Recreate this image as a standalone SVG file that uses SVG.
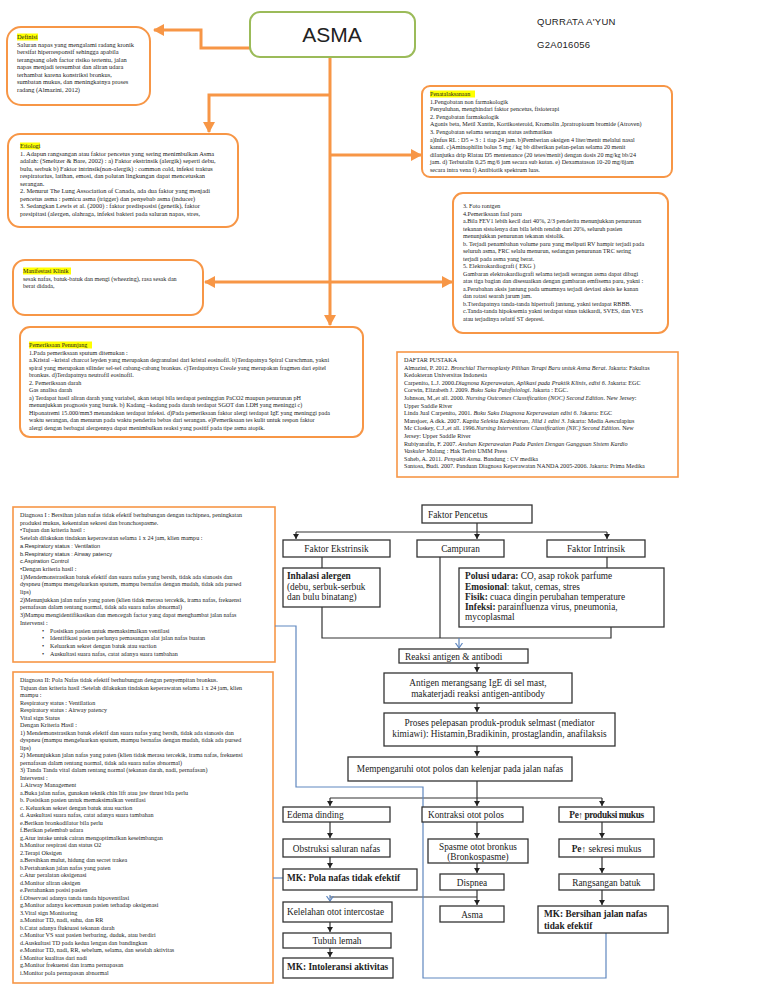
<svg xmlns="http://www.w3.org/2000/svg" width="768" height="1002" viewBox="0 0 768 1002">
<defs>
<style>
.t{font-family:"Liberation Serif",serif;font-size:6.1px;fill:#222}
.t6{font-family:"Liberation Serif",serif;font-size:6.4px;fill:#222}
.s{font-family:"Liberation Sans",sans-serif;font-size:5.6px;fill:#222}
.f{font-family:"Liberation Serif",serif;font-size:9.3px;fill:#222}
.fc{font-family:"Liberation Serif",serif;font-size:9.3px;fill:#222;text-anchor:middle}
.b{font-weight:bold}
.it{font-style:italic}
.ob{fill:#fff;stroke:#F79646;stroke-width:2}
.os{fill:#fff;stroke:#F79646;stroke-width:1.6}
.fb{fill:#fff;stroke:#333;stroke-width:1.3}
.oc{fill:none;stroke:#F79646;stroke-width:3}
.bc{fill:none;stroke:#333;stroke-width:1.2}
.bl{fill:none;stroke:#5f87bf;stroke-width:1.2}
.hl{fill:#FFFF00}
</style>
<marker id="oa" markerUnits="userSpaceOnUse" markerWidth="12" markerHeight="12" refX="10" refY="6" orient="auto"><path d="M0,0 L11,6 L0,12 z" fill="#F79646"/></marker>
<marker id="ka" markerUnits="userSpaceOnUse" markerWidth="6" markerHeight="6" refX="5" refY="3" orient="auto"><path d="M0,0 L5,3 L0,6 z" fill="#222"/></marker>
<marker id="ba" markerUnits="userSpaceOnUse" markerWidth="7" markerHeight="8" refX="5" refY="4" orient="auto"><path d="M0,0.5 L5,4 L0,7.5" fill="none" stroke="#5f87bf" stroke-width="1.2"/></marker>
</defs>
<rect width="768" height="1002" fill="#fff"/>

<g id="connectors-top">
<path class="oc" d="M250,48 H201 V30 H154" marker-end="url(#oa)"/>
<path class="oc" d="M330,57 V325" marker-end="url(#oa)"/>
<path class="oc" d="M330,95 H209 V132" marker-end="url(#oa)"/>
<path class="oc" d="M330,155 H421" marker-end="url(#oa)"/>
<path class="oc" d="M330,282 H205" marker-end="url(#oa)"/>
<path class="oc" d="M330,282 H452" marker-end="url(#oa)"/>
</g>

<g id="asma">
<rect x="250" y="12" width="165" height="45" rx="10" fill="#fff" stroke="#9BBB59" stroke-width="2"/>
<text x="332" y="42" font-family="Liberation Sans, sans-serif" font-size="21" text-anchor="middle" fill="#222">ASMA</text>
</g>

<g id="author">
<text x="537" y="25" font-family="Liberation Sans, sans-serif" font-size="9.5" letter-spacing="0.3" fill="#222">QURRATA A'YUN</text>
<text x="537" y="48" font-family="Liberation Sans, sans-serif" font-size="9.5" letter-spacing="0.3" fill="#222">G2A016056</text>
</g>

<g id="definisi">
<rect class="ob" x="7" y="27" width="143" height="78" rx="14"/>
<rect class="hl" x="17" y="33.5" width="21" height="7"/>
<text class="t6" x="17" y="39">Definisi</text>
<text class="t6" x="17" y="46.5">Saluran napas yang mengalami radang kronik</text>
<text class="t6" x="17" y="54">bersifat hiperresponsif sehingga apabila</text>
<text class="t6" x="17" y="61.5">terangsang oleh factor risiko tertentu, jalan</text>
<text class="t6" x="17" y="69">napas menjadi tersumbat dan aliran udara</text>
<text class="t6" x="17" y="76.5">terhambat karena konstriksi bronkus,</text>
<text class="t6" x="17" y="84">sumbatan mukus, dan meningkatnya proses</text>
<text class="t6" x="17" y="91.5">radang (Almazini, 2012)</text>
</g>

<g id="etiologi">
<rect class="ob" x="8" y="134" width="230" height="93" rx="12"/>
<rect class="hl" x="20" y="142.5" width="20" height="7"/>
<text class="t6" x="20" y="148">Etiologi</text>
<text class="t6" x="20" y="155.5">1. Adapun rangsangan atau faktor pencetus yang sering menimbulkan Asma</text>
<text class="t6" x="20" y="163">adalah: (Smeltzer &amp; Bare, 2002) : a) Faktor ekstrinsik (alergik) seperti debu,</text>
<text class="t6" x="20" y="170.5">bulu, serbuk b) Faktor intrinsik(non-alergik) : common cold, infeksi traktus</text>
<text class="t6" x="20" y="178">respiratorius, latihan, emosi, dan polutan lingkungan dapat mencetuskan</text>
<text class="t6" x="20" y="185.5">serangan.</text>
<text class="t6" x="20" y="193">2. Menurut The Lung Association of Canada, ada dua faktor yang menjadi</text>
<text class="t6" x="20" y="200.5">pencetus asma :   pemicu asma (trigger) dan penyebab asma (inducer)</text>
<text class="t6" x="20" y="208">3. Sedangkan Lewis et al. (2000) : faktor predisposisi (genetik), faktor</text>
<text class="t6" x="20" y="215.5">presipitasi (alergen, olahraga, infeksi bakteri pada saluran napas, stres,</text>
</g>

<g id="manifestasi">
<rect class="ob" x="13" y="260" width="190" height="55" rx="12"/>
<rect class="hl" x="23" y="267.5" width="48" height="7"/>
<text class="t" x="23" y="273">Manifestasi Klinik</text>
<text class="t" x="23" y="280.5">sesak nafas, batuk-batuk dan mengi (wheezing), rasa sesak dan</text>
<text class="t" x="23" y="288">berat didada,</text>
</g>

<g id="pemeriksaan">
<rect class="ob" x="20" y="327" width="343" height="110" rx="10"/>
<rect class="hl" x="29" y="341.5" width="63" height="7"/>
<text class="t" x="29" y="347">Pemeriksaan Penunjang</text>
<text class="t" x="29" y="354.5">1.Pada pemeriksaan sputum ditemukan :</text>
<text class="t" x="29" y="362">a.Kristal –kristal charcot leyden yang merupakan degranulasi dari kristal eosinofil. b)Terdapatnya Spiral Curschman, yakni</text>
<text class="t" x="29" y="369.5">spiral yang merupakan silinder sel-sel cabang-cabang bronkus. c)Terdapatnya Creole yang merupakan fragmen dari epitel</text>
<text class="t" x="29" y="377">bronkus. d)Terdapatnya neutrofil eosinofil.</text>
<text class="t" x="29" y="384.5">2. Pemeriksaan darah</text>
<text class="t" x="29" y="392">Gas analisa darah</text>
<text class="t" x="29" y="399.5">a) Terdapat hasil aliran darah yang variabel, akan tetapi bila terdapat peninggian PaCO2 maupun penurunan pH</text>
<text class="t" x="29" y="407">menunjukkan prognosis yang buruk. b) Kadang –kadang pada darah terdapat SGOT dan LDH yang meninggi c)</text>
<text class="t" x="29" y="414.5">Hiponatremi 15.000/mm3 menandakan terdapat infeksi. d)Pada pemeriksaan faktor alergi terdapat IgE yang meninggi pada</text>
<text class="t" x="29" y="422">waktu serangan, dan menurun pada waktu penderita bebas dari serangan. e)Pemeriksaan tes kulit untuk respon faktor</text>
<text class="t" x="29" y="429.5">alergi dengan berbagai alergennya dapat menimbulkan reaksi yang positif pada tipe asma atopik.</text>
</g>

<g id="penatalaksanaan">
<rect class="ob" x="422" y="86" width="250" height="91" rx="8"/>
<rect class="hl" x="430" y="90.5" width="45" height="7"/>
<text class="t" x="430" y="96">Penatalaksanaan</text>
<text class="t" x="430" y="103.6">1.Pengobatan non farmakologik</text>
<text class="t" x="430" y="111.2">Penyuluhan, menghindari faktor pencetus, fisioterapi</text>
<text class="t" x="430" y="118.8">2. Pengobatan farmakologik</text>
<text class="t" x="430" y="126.4">Agonis beta, Metil Xantin, Kortikosteroid, Kromolin ,Ipratropioum bromide (Atroven)</text>
<text class="t" x="430" y="134">3. Pengobatan selama serangan status asthmatikus</text>
<text class="t" x="430" y="141.6">a)Infus RL : D5  = 3 : 1 tiap 24 jam. b)Pemberian oksigen 4 liter/menit melalui nasal</text>
<text class="t" x="430" y="149.2">kanul. c)Aminophilin bolus 5 mg / kg bb diberikan pelan-pelan selama 20 menit</text>
<text class="t" x="430" y="156.8">dilanjutka drip Rlatau D5 mentenance (20 tetes/menit) dengan dosis 20 mg/kg bb/24</text>
<text class="t" x="430" y="164.4">jam. d) Terbutalin 0,25 mg/6 jam secara sub kutan. e)    Dexamatason 10-20 mg/6jam</text>
<text class="t" x="430" y="172">secara intra vena f) Antibiotik spektrum luas.</text>
</g>

<g id="foto">
<rect class="ob" x="453" y="193" width="215" height="140" rx="10"/>
<text class="t" x="463" y="208">3. Foto rontgen</text>
<text class="t" x="463" y="215.5">4.Pemeriksaan faal paru</text>
<text class="t" x="463" y="223">a.Bila FEV1 lebih kecil dari 40%, 2/3 penderita menunjukkan penurunan</text>
<text class="t" x="463" y="230.5">tekanan sistolenya dan bila lebih rendah dari 20%, seluruh pasien</text>
<text class="t" x="463" y="238">menunjukkan penurunan tekanan sistolik.</text>
<text class="t" x="463" y="245.5">b. Terjadi penambahan volume paru yang meliputi RV hampir terjadi pada</text>
<text class="t" x="463" y="253">seluruh asma, FRC selalu menurun, sedangan penurunan TRC sering</text>
<text class="t" x="463" y="260.5">terjadi pada asma yang berat.</text>
<text class="t" x="463" y="268">5. Elektrokardiografi ( EKG )</text>
<text class="t" x="463" y="275.5">Gambaran elektrokardiografi selama terjadi serangan asma dapat dibagi</text>
<text class="t" x="463" y="283">atas tiga bagian dan disesuaikan dengan gambaran emfisema paru, yakni :</text>
<text class="t" x="463" y="290.5">a.Perubahan aksis jantung pada umumnya terjadi deviasi aksis ke kanan</text>
<text class="t" x="463" y="298">dan rotasi searah jarum jam.</text>
<text class="t" x="463" y="305.5">b.Tterdapatnya tanda-tanda hipertrofi jantung, yakni terdapat RBBB.</text>
<text class="t" x="463" y="313">c.Tanda-tanda hipoksemia yakni terdapat sinus takikardi, SVES, dan VES</text>
<text class="t" x="463" y="320.5">atau terjadinya relatif ST depresi.</text>
</g>

<g id="daftar-pustaka">
<rect class="os" x="397" y="352" width="281" height="125"/>
<text class="t" x="404" y="362">DAFTAR PUSTAKA</text>
<text class="t" x="404" y="369.6">Almazini, P. 2012. <tspan class="it">Bronchial Thermoplasty Pilihan Terapi Baru untuk Asma Berat</tspan>. Jakarta: Fakultas</text>
<text class="t" x="404" y="377.2">Kedokteran Universitas Indonesia</text>
<text class="t" x="404" y="384.8">Carpenito, L.J. 2000.<tspan class="it">Diagnosa Keperawatan, Aplikasi pada Praktik Klinis, edisi 6</tspan>. Jakarta: EGC</text>
<text class="t" x="404" y="392.4">Corwin, Elizabeth J. 2009. <tspan class="it">Buku Saku Patofisiologi</tspan>. Jakarta : EGC.</text>
<text class="t" x="404" y="400">Johnson, M.,et all. 2000. <tspan class="it">Nursing Outcomes Classification (NOC) Second Edition</tspan>. New Jersey:</text>
<text class="t" x="404" y="407.6">Upper Saddle River</text>
<text class="t" x="404" y="415.2">Linda Jual Carpenito, 2001. <tspan class="it">Buku Saku Diagnosa Keperawatan edisi 6</tspan>. Jakarta: EGC</text>
<text class="t" x="404" y="422.8">Mansjoer, A dkk. 2007. <tspan class="it">Kapita Selekta Kedokteran, Jilid 1 edisi 3</tspan>. Jakarta: Media Aesculapius</text>
<text class="t" x="404" y="430.4">Mc Closkey, C.J.,et all. 1996.<tspan class="it">Nursing Interventions Classification (NIC) Second Edition</tspan>. New</text>
<text class="t" x="404" y="438">Jersey: Upper Saddle River</text>
<text class="t" x="404" y="445.6">Rubiyanafin, F. 2007. <tspan class="it">Asuhan Keperawatan Pada Pasien Dengan Gangguan Sistem Kardio</tspan></text>
<text class="t" x="404" y="453.2"><tspan class="it">Vaskuler</tspan> Malang : Hak Terbit UMM Press</text>
<text class="t" x="404" y="460.8">Saheb, A. 2011. <tspan class="it">Penyakit Asma</tspan>. Bandung : CV medika</text>
<text class="t" x="404" y="468.4">Santosa, Budi. 2007. Panduan Diagnosa Keperawatan NANDA 2005-2006. Jakarta: Prima Medika</text>
</g>

<g id="diagnosa-1">
<rect class="os" x="13" y="507" width="262" height="155"/>
<text class="t" x="20" y="517">Diagnosa I : Bersihan jalan nafas tidak efektif berhubungan dengan tachipnea, peningkatan</text>
<text class="t" x="20" y="524.7">produksi mukus, kekentalan sekresi dan bronchospasme.</text>
<text class="t" x="20" y="532.4">•Tujuan dan kriteria hasil :</text>
<text class="t" x="20" y="540.1">Setelah dilakukan tindakan keperawatan selama 1 x 24 jam, klien mampu :</text>
<text class="s" x="20" y="547.8">a.Respiratory status : Ventilation</text>
<text class="s" x="20" y="555.5">b.Respiratory status : Airway patency</text>
<text class="s" x="20" y="563.2">c.Aspiration Control</text>
<text class="t" x="20" y="570.9">•Dengan kriteria hasil :</text>
<text class="t" x="20" y="578.6">1)Mendemonstrasikan batuk efektif dan suara nafas yang bersih, tidak ada sianosis dan</text>
<text class="t" x="20" y="586.3">dyspneu (mampu mengeluarkan sputum, mampu bernafas dengan mudah, tidak ada pursed</text>
<text class="t" x="20" y="594">lips)</text>
<text class="t" x="20" y="601.7">2)Menunjukkan jalan nafas yang paten (klien tidak merasa tercekik, irama nafas, frekuensi</text>
<text class="t" x="20" y="609.4">pernafasan dalam rentang normal, tidak ada suara nafas abnormal)</text>
<text class="t" x="20" y="617.1">3)Mampu mengidentifikasikan dan mencegah factor yang dapat menghambat jalan nafas</text>
<text class="t" x="20" y="624.8">Intervensi :</text>
<text class="t" x="42" y="632.5">•</text><text class="t" x="50" y="632.5">Posisikan pasien untuk memaksimalkan ventilasi</text>
<text class="t" x="42" y="640.2">•</text><text class="t" x="50" y="640.2">Identifikasi pasien perlunya pemasangan alat jalan nafas buatan</text>
<text class="t" x="42" y="647.9">•</text><text class="t" x="50" y="647.9">Keluarkan sekret dengan batuk atau suction</text>
<text class="t" x="42" y="655.6">•</text><text class="t" x="50" y="655.6">Auskultasi suara nafas, catat adanya suara tambahan</text>
</g>

<g id="diagnosa-2">
<rect class="os" x="13" y="672" width="260" height="311"/>
<text class="t" x="20" y="682">Diagnosa II: Pola Nafas tidak efektif berhubungan dengan penyempitan bronkus.</text>
<text class="t" x="20" y="689.5">Tujuan dan kriteria hasil :Setelah dilakukan tindakan keperawatan selama 1 x 24 jam, klien</text>
<text class="t" x="20" y="697">mampu :</text>
<text class="t" x="20" y="704.5">Respiratory status : Ventilation</text>
<text class="t" x="20" y="712">Respiratory status : Airway patency</text>
<text class="t" x="20" y="719.5">Vital sign Status</text>
<text class="t" x="20" y="727">Dengan Kriteria Hasil :</text>
<text class="t" x="20" y="734.6">1) Mendemonstrasikan batuk efektif dan suara nafas yang bersih, tidak ada sianosis dan</text>
<text class="t" x="20" y="742.1">dyspneu (mampu mengeluarkan sputum, mampu bernafas dengan mudah, tidak ada pursed</text>
<text class="t" x="20" y="749.6">lips)</text>
<text class="t" x="20" y="757.1">2) Menunjukkan jalan nafas yang paten (klien tidak merasa tercekik, irama nafas, frekuensi</text>
<text class="t" x="20" y="764.6">pernafasan dalam rentang normal, tidak ada suara nafas abnormal)</text>
<text class="t" x="20" y="772.1">3) Tanda Tanda vital dalam rentang normal (tekanan darah, nadi, pernafasan)</text>
<text class="t" x="20" y="779.6">Intervensi :</text>
<text class="t" x="20" y="787.1">1.Airway Management</text>
<text class="t" x="20" y="794.7">a.Buka jalan nafas, gunakan teknik chin lift atau jaw thrust bila perlu</text>
<text class="t" x="20" y="802.2">b. Posisikan pasien untuk memaksimalkan ventilasi</text>
<text class="t" x="20" y="809.7">c. Keluarkan sekret dengan batuk atau suction</text>
<text class="t" x="20" y="817.2">d. Auskultasi suara nafas, catat adanya suara tambahan</text>
<text class="t" x="20" y="824.7">e.Berikan bronkodilator bila perlu</text>
<text class="t" x="20" y="832.2">f.Berikan pelembab udara</text>
<text class="t" x="20" y="839.7">g.Atur intake untuk cairan mengoptimalkan keseimbangan</text>
<text class="t" x="20" y="847.2">h.Monitor respirasi dan status O2</text>
<text class="t" x="20" y="854.7">2.Terapi Oksigen</text>
<text class="t" x="20" y="862.2">a.Bersihkan mulut, hidung dan secret trakea</text>
<text class="t" x="20" y="869.8">b.Pertahankan jalan nafas yang paten</text>
<text class="t" x="20" y="877.3">c.Atur peralatan oksigenasi</text>
<text class="t" x="20" y="884.8">d.Monitor aliran oksigen</text>
<text class="t" x="20" y="892.3">e.Pertahankan posisi pasien</text>
<text class="t" x="20" y="899.8">f.Observasi adanya tanda tanda hipoventilasi</text>
<text class="t" x="20" y="907.3">g.Monitor adanya kecemasan pasien terhadap oksigenasi</text>
<text class="t" x="20" y="914.8">3.Vital sign Monitoring</text>
<text class="t" x="20" y="922.3">a.Monitor TD, nadi, suhu, dan RR</text>
<text class="t" x="20" y="929.9">b.Catat adanya fluktuasi tekanan darah</text>
<text class="t" x="20" y="937.4">c.Monitor VS saat pasien berbaring, duduk, atau berdiri</text>
<text class="t" x="20" y="944.9">d.Auskultasi TD pada kedua lengan dan bandingkan</text>
<text class="t" x="20" y="952.4">e.Monitor TD, nadi, RR, sebelum, selama, dan setelah aktivitas</text>
<text class="t" x="20" y="959.9">f.Monitor kualitas dari nadi</text>
<text class="t" x="20" y="967.4">g.Monitor frekuensi dan irama pernapasan</text>
<text class="t" x="20" y="974.9">i.Monitor pola pernapasan abnormal</text>
</g>

<g id="connectors-flow">
<path class="bc" d="M477,523 V539" marker-end="url(#ka)"/>
<path class="bc" d="M296,532 H607"/>
<path class="bc" d="M296,532 V539" marker-end="url(#ka)"/>
<path class="bc" d="M607,532 V539" marker-end="url(#ka)"/>
<path class="bc" d="M322,557 V568"/>
<path class="bc" d="M607,557 V568"/>
<path class="bc" d="M322,607 V638 H611 V627"/>
<path class="bc" d="M440,557 V638"/>
<path class="bl" d="M459,638 V648" marker-end="url(#ba)"/>
<path class="bc" d="M477,663 V672" marker-end="url(#ka)"/>
<path class="bc" d="M477,703 V712" marker-end="url(#ka)"/>
<path class="bc" d="M477,746 V756" marker-end="url(#ka)"/>
<path class="bc" d="M477,781 V798"/>
<path class="bc" d="M330,798 H602"/>
<path class="bc" d="M330,798 V806" marker-end="url(#ka)"/>
<path class="bc" d="M477,798 V806" marker-end="url(#ka)"/>
<path class="bc" d="M602,798 V806" marker-end="url(#ka)"/>
<path class="bc" d="M330,822 V838" marker-end="url(#ka)"/>
<path class="bc" d="M330,857 V868" marker-end="url(#ka)"/>
<path class="bc" d="M477,822 V838" marker-end="url(#ka)"/>
<path class="bc" d="M477,863 V873" marker-end="url(#ka)"/>
<path class="bc" d="M477,890 V905" marker-end="url(#ka)"/>
<path class="bc" d="M477,897 H330"/>
<path class="bl" d="M330,895 V901" marker-end="url(#ba)"/>
<path class="bc" d="M330,922 V932" marker-end="url(#ka)"/>
<path class="bc" d="M330,948 V957" marker-end="url(#ka)"/>
<path class="bc" d="M602,822 V838" marker-end="url(#ka)"/>
<path class="bc" d="M602,857 V873" marker-end="url(#ka)"/>
<path class="bc" d="M602,890 V905" marker-end="url(#ka)"/>
<path class="bl" d="M275,626 H296 V787 H423 V978 H606 V933"/>
<path class="bl" d="M273,878 H283"/>
</g>

<g id="faktor-pencetus"><rect class="fb" x="422" y="505" width="110" height="18"/><text class="f" x="428" y="517.5">Faktor Pencetus</text></g>
<g id="faktor-ekstrinsik"><rect class="fb" x="283" y="540" width="107" height="17"/><text class="fc" x="336.5" y="551.5">Faktor Ekstrinsik</text></g>
<g id="campuran"><rect class="fb" x="417" y="540" width="87" height="17"/><text class="fc" x="460.5" y="551.5">Campuran</text></g>
<g id="faktor-intrinsik"><rect class="fb" x="547" y="540" width="98" height="17"/><text class="fc" x="596" y="551.5">Faktor Intrinsik</text></g>
<g id="inhalasi"><rect class="fb" x="283" y="568" width="97" height="39"/>
<text class="f b" x="287" y="579">Inhalasi alergen</text>
<text class="f" x="287" y="589.5">(debu, serbuk-serbuk</text>
<text class="f" x="287" y="600">dan bulu binatang)</text></g>
<g id="polusi"><rect class="fb" x="459" y="568" width="205" height="59"/>
<text class="f" x="465" y="579"><tspan class="b">Polusi udara:</tspan> CO, asap rokok parfume</text>
<text class="f" x="465" y="589.5"><tspan class="b">Emosional</tspan>: takut, cemas, stres</text>
<text class="f" x="465" y="599.5"><tspan class="b">Fisik:</tspan> cuaca dingin perubahan temperature</text>
<text class="f" x="465" y="609.5"><tspan class="b">Infeksi:</tspan> parainfluenza virus, pneumonia,</text>
<text class="f" x="465" y="620">mycoplasmal</text></g>
<g id="reaksi"><rect class="fb" x="399" y="649" width="129" height="14"/><text class="f" x="405" y="659.5">Reaksi antigen &amp; antibodi</text></g>
<g id="antigen"><rect class="fb" x="384" y="673" width="188" height="30"/>
<text class="fc" x="478" y="686">Antigen merangsang IgE di sel mast,</text>
<text class="fc" x="478" y="697">makaterjadi reaksi antigen-antibody</text></g>
<g id="proses"><rect class="fb" x="384" y="713" width="231" height="33"/>
<text class="fc" x="499.5" y="725.5">Proses pelepasan produk-produk selmast (mediator</text>
<text class="fc" x="499.5" y="737">kimiawi): Histamin,Bradikinin, prostaglandin, anafilaksis</text></g>
<g id="mempengaruhi"><rect class="fb" x="348" y="757" width="224" height="24"/><text class="fc" x="460" y="771.5">Mempengaruhi otot polos dan kelenjar pada jalan nafas</text></g>
<g id="edema"><rect class="fb" x="283" y="807" width="107" height="15"/><text class="f" x="287" y="818">Edema dinding</text></g>
<g id="kontraksi"><rect class="fb" x="422" y="807" width="101" height="15"/><text class="f" x="428" y="818">Kontraksi otot polos</text></g>
<g id="produksi-mukus"><rect class="fb" x="559" y="807" width="95" height="15"/><text class="fc b" x="606.5" y="818" letter-spacing="-0.4">Pe↑ produksi mukus</text></g>
<g id="obstruksi"><rect class="fb" x="283" y="839" width="107" height="18"/><text class="fc" x="336.5" y="851.5">Obstruksi saluran nafas</text></g>
<g id="spasme"><rect class="fb" x="428" y="839" width="100" height="24"/>
<text class="fc" x="478" y="849.5">Spasme otot bronkus</text>
<text class="fc" x="478" y="860">(Bronkospasme)</text></g>
<g id="sekresi-mukus"><rect class="fb" x="559" y="839" width="95" height="18"/><text class="fc" x="606.5" y="851.5"><tspan class="b">Pe↑</tspan> sekresi mukus</text></g>
<g id="mk-pola"><rect class="fb" x="283" y="869" width="134" height="21"/><text class="f b" x="287" y="880.5">MK: Pola nafas tidak efektif</text></g>
<g id="dispnea"><rect class="fb" x="440" y="874" width="64" height="16"/><text class="fc" x="472" y="885.5">Dispnea</text></g>
<g id="rangsangan"><rect class="fb" x="559" y="874" width="95" height="16"/><text class="fc" x="606.5" y="885.5">Rangsangan batuk</text></g>
<g id="kelelahan"><rect class="fb" x="283" y="902" width="109" height="20"/><text class="f" x="287" y="914.5">Kelelahan otot intercostae</text></g>
<g id="asma-box"><rect class="fb" x="440" y="906" width="64" height="16"/><text class="fc" x="472" y="917.5">Asma</text></g>
<g id="mk-bersihan"><rect class="fb" x="538" y="906" width="130" height="27"/>
<text class="f b" x="544" y="917">MK: Bersihan jalan nafas</text>
<text class="f b" x="544" y="929">tidak efektif</text></g>
<g id="tubuh-lemah"><rect class="fb" x="283" y="933" width="108" height="15"/><text class="fc" x="337" y="944">Tubuh lemah</text></g>
<g id="mk-intoleransi"><rect class="fb" x="283" y="958" width="110" height="20"/><text class="f b" x="287" y="969.5" font-size="6.5">MK: Intoleransi aktivitas</text></g>
</svg>
